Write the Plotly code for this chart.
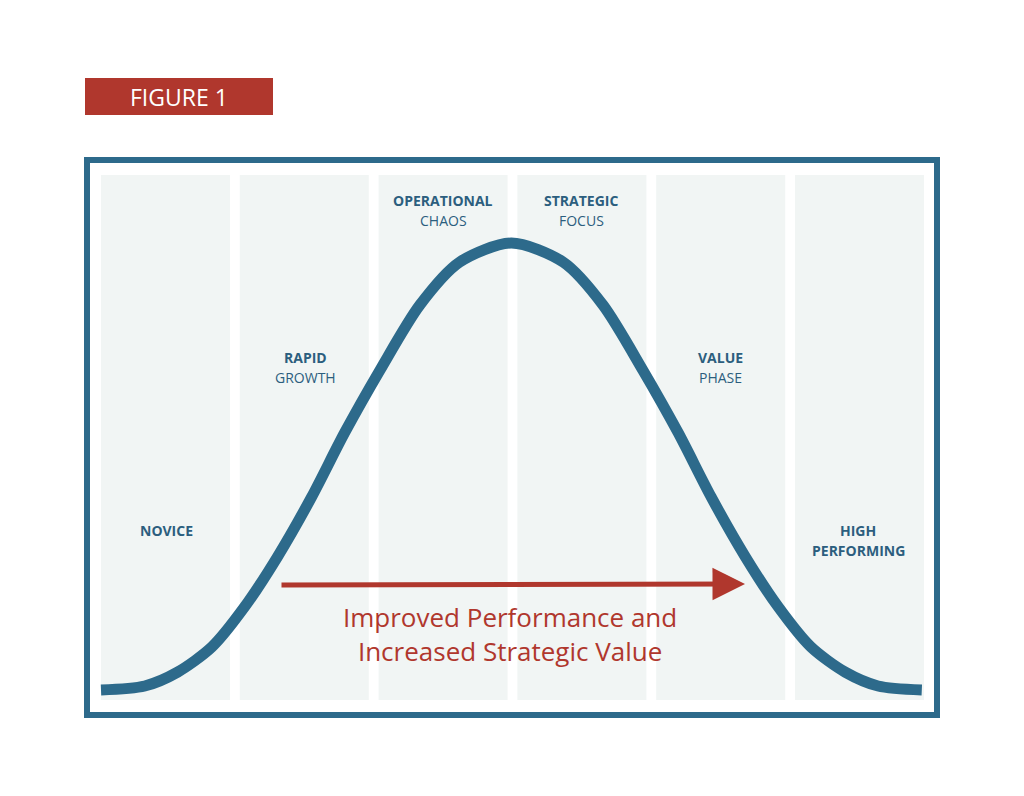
import plotly.graph_objects as go

W, H = 1024, 796
# curve (data units: x in stage widths, y normalized height)
curve_x = [0, 0.32, 0.56, 0.81, 1.05, 1.29, 1.54, 1.78, 2.04, 2.33, 2.62, 3.0,
           3.38, 3.67, 3.96, 4.22, 4.46, 4.71, 4.95, 5.19, 5.44, 5.68, 6.0]
curve_y = [0, 0.009, 0.040, 0.096, 0.186, 0.298, 0.432, 0.575, 0.716, 0.861, 0.957, 1.0,
           0.957, 0.861, 0.716, 0.575, 0.432, 0.298, 0.186, 0.096, 0.040, 0.009, 0]
stage_bold = ["NOVICE", "RAPID", "OPERATIONAL", "STRATEGIC", "VALUE", "HIGH"]
stage_sub = ["", "GROWTH", "CHAOS", "FOCUS", "PHASE", "PERFORMING"]
title = "FIGURE 1"
arrow_text = "Improved Performance and<br>Increased Strategic Value"

BLUE = "#2d6a8b"
TXT = "#2c5e7e"
RED = "#b0372d"

X0, XS = 101, 136.8
Y0, YS = 690, 447
OFF = 8  # page offset of rendered figure
def dx(px): return (px - X0) / XS
def dy(py): return (Y0 - py) / YS

fig = go.Figure()
shapes = []
shapes.append(dict(type="rect", x0=dx(87), x1=dx(937), y0=dy(715), y1=dy(160),
                   line=dict(color=BLUE, width=6), fillcolor="white", layer="below"))
for i in range(6):
    x0 = dx(101 + 138.8 * i)
    shapes.append(dict(type="rect", x0=x0, x1=x0 + 129 / XS, y0=dy(700), y1=dy(175),
                       line=dict(width=0), fillcolor="#f1f5f4", layer="below"))
shapes.append(dict(type="rect", x0=dx(85), x1=dx(273), y0=dy(115), y1=dy(78),
                   line=dict(width=0), fillcolor=RED, layer="below"))

fig.add_trace(go.Scatter(x=curve_x, y=curve_y, mode="lines",
                         line=dict(color=BLUE, width=11, shape="spline", smoothing=0.8),
                         hoverinfo="skip"))

ann = []
ann.append(dict(x=dx(179), y=dy(97), text=title, showarrow=False, yanchor="middle",
                font=dict(family="Open Sans", size=23, color="white")))
pos = [(166, 530), (305, 357), (443, 200), (581, 200), (720, 357), (858, 530)]
for (px, py), b, s in zip(pos, stage_bold, stage_sub):
    ann.append(dict(x=dx(px), y=dy(py), text="<b>" + b + "</b>", showarrow=False,
                    font=dict(family="Open Sans", size=14, color=TXT)))
    if s:
        ann.append(dict(x=dx(px), y=dy(py + 20), text=("<b>" + s + "</b>") if b == "HIGH" else s,
                        showarrow=False, font=dict(family="Open Sans", size=14, color=TXT)))
ann.append(dict(x=dx(745), y=dy(584), ax=dx(280), ay=dy(585), axref="x", ayref="y",
                text="", showarrow=True, arrowhead=2, arrowsize=1.3, arrowwidth=5,
                arrowcolor=RED))
ann.append(dict(x=dx(510), y=dy(634), text=arrow_text, showarrow=False,
                font=dict(family="Open Sans", size=26, color=RED)))

fig.update_layout(width=W, height=H, margin=dict(l=0, r=0, t=0, b=0),
                  paper_bgcolor="white", plot_bgcolor="white", showlegend=False,
                  shapes=shapes, annotations=ann,
                  xaxis=dict(range=[dx(OFF), dx(W + OFF)], visible=False, fixedrange=True),
                  yaxis=dict(range=[dy(H + OFF), dy(OFF)], visible=False, fixedrange=True))
fig.write_html("out.html")
